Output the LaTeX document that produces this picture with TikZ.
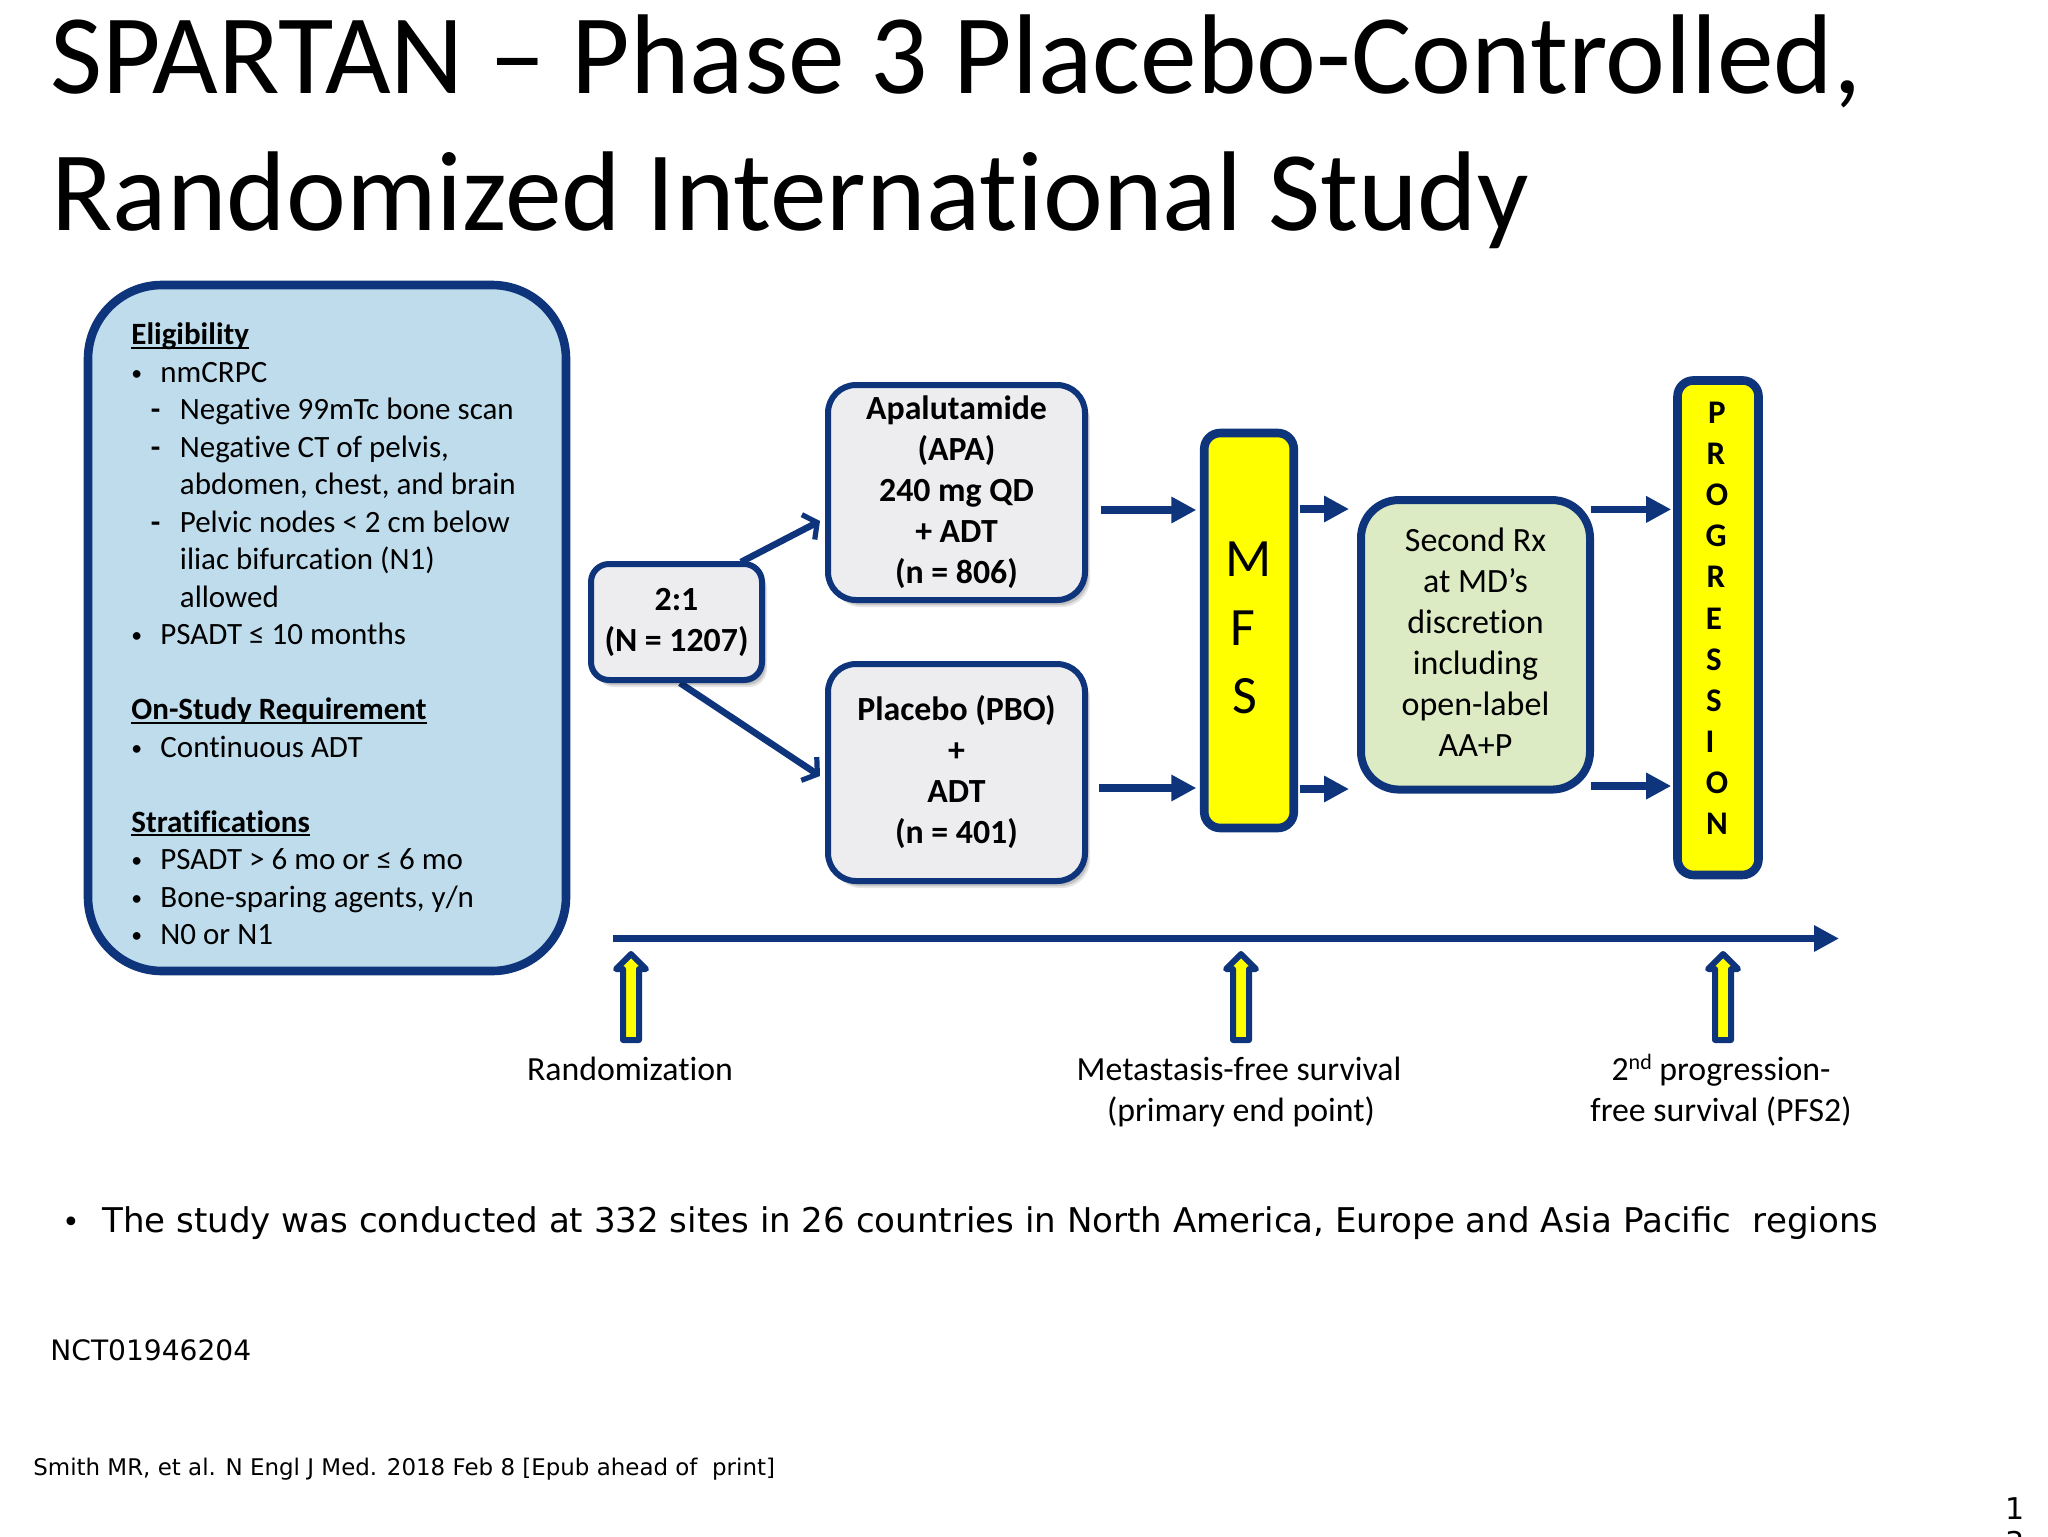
\documentclass[tikz,border=0pt]{standalone}
\usepackage{fontspec}
\setmainfont[Ligatures=NoCommon]{Carlito}
\newfontfamily\notefont{DejaVu Sans}
\usetikzlibrary{arrows.meta,shadows}
\definecolor{navy}{HTML}{0E357C}
\definecolor{panelblue}{HTML}{BEDCEC}
\definecolor{boxgrey}{HTML}{EDEDEF}
\definecolor{rxgreen}{HTML}{DCEBC3}
\definecolor{markyellow}{HTML}{FFFF00}
\newcommand{\listbul}{\makebox[14.5pt][l]{\raisebox{1pt}{\scalebox{.7}{\textbullet}}}}
\newcommand{\listdash}{\makebox[14.5pt][l]{\textbf{-}}}
\newcommand{\listhead}[1]{\setbox0\hbox{\textbf{#1}}\rlap{\rule[-1.9pt]{\wd0}{1pt}}\box0}
\tikzset{
    softshadow/.style={drop shadow={shadow xshift=2.5pt,shadow yshift=-3.5pt,opacity=.1,fill=black},
        drop shadow={shadow xshift=1.8pt,shadow yshift=-2.5pt,opacity=.14,fill=black},
        drop shadow={shadow xshift=1pt,shadow yshift=-1.5pt,opacity=.16,fill=black}},
    armbox/.style={draw=navy,fill=boxgrey,line width=3pt,rounded corners=14pt,softshadow,align=center,
        font=\fontsize{16.9}{20.5}\selectfont\bfseries,inner sep=0pt},
    barbox/.style={draw=navy,fill=markyellow,line width=4.3pt,rounded corners=8pt,inner sep=0pt},
    listline/.style={anchor=base west,inner sep=0pt,font=\fontsize{15.5}{18}\selectfont},
    timelabel/.style={anchor=base,inner sep=0pt,font=\fontsize{16.9}{20}\selectfont},
    progletter/.style={anchor=base,inner sep=0pt,font=\fontsize{16.5}{18}\selectfont\bfseries},
    mfsletter/.style={anchor=base,inner sep=0pt,font=\fontsize{27}{30}\selectfont},
    titleline/.style={anchor=base west,inner sep=0pt,font=\fontsize{56.7}{67}\selectfont},
    flowline/.style={draw=navy,line width=3.8pt,-{Triangle[length=12.5pt,width=12.5pt]}},
    splitline/.style={draw=navy,line width=3.3pt,-{Straight Barb[length=5pt,width=14pt,line width=2.6pt]}},
    timemark/.pic={\draw[draw=navy,fill=markyellow,line width=3pt,line join=round]
        (-8,0) -- (-8,-71) -- (-15,-71) -- (0,-86) -- (15,-71) -- (8,-71) -- (8,0) -- cycle;}
}
\begin{document}
\begin{tikzpicture}[x=.5pt,y=-.5pt]
    \path[use as bounding box,fill=white] (0,0) rectangle (2048,1536);
    % title
    \node[titleline] (title1) at (50,94) {SPARTAN -- Phase 3 Placebo-Controlled,};
    \node[titleline] (title2) at (51,230.5) {Randomized International Study};
    % eligibility panel
    \node[draw=navy,fill=panelblue,line width=4.3pt,rounded corners=37pt,minimum width=239pt,minimum height=343pt] (panel) at (327,628) {};
    \node[listline] (elig) at (131,344.7) {\listhead{Eligibility}};
    \node[listline] (elig1) at (131,382.2) {\listbul nmCRPC};
    \node[listline] (elig2) at (150.5,419.7) {\listdash Negative 99mTc bone scan};
    \node[listline] (elig3) at (150.5,457.2) {\listdash Negative CT of pelvis,};
    \node[listline] (elig4) at (179.5,494.7) {abdomen, chest, and brain};
    \node[listline] (elig5) at (150.5,532.2) {\listdash Pelvic nodes < 2 cm below};
    \node[listline] (elig6) at (179.5,569.7) {iliac bifurcation (N1)};
    \node[listline] (elig7) at (179.5,607.2) {allowed};
    \node[listline] (elig8) at (131,644.7) {\listbul PSADT ≤ 10 months};
    \node[listline] (req) at (131,719.7) {\listhead{On-Study Requirement}};
    \node[listline] (req1) at (131,757.2) {\listbul Continuous ADT};
    \node[listline] (strat) at (131,832.2) {\listhead{Stratifications}};
    \node[listline] (strat1) at (131,869.7) {\listbul PSADT > 6 mo or ≤ 6 mo};
    \node[listline] (strat2) at (131,907.2) {\listbul Bone-sparing agents, y/n};
    \node[listline] (strat3) at (131,944.7) {\listbul N0 or N1};
    % randomization and arms
    \coordinate (randtop) at (741,562);
    \coordinate (randbot) at (680,683);
    \coordinate (apain) at (820,521);
    \coordinate (pboin) at (820,776);
    \draw[splitline] (randtop) -- (apain);
    \draw[splitline] (randbot) -- (pboin);
    \node[armbox,rounded corners=9pt,minimum width=85.5pt,minimum height=58pt] (rand) at (676.5,622) {2:1\\(N = 1207)};
    \node[armbox,minimum width=128.5pt,minimum height=107.5pt] (apa) at (956.5,492.5) {Apalutamide\\(APA)\\240 mg QD\\+ ADT\\(n = 806)};
    \node[armbox,minimum width=128.5pt,minimum height=108.5pt] (pbo) at (956.5,772.5) {Placebo (PBO)\\+\\ADT\\(n = 401)};
    % MFS bar
    \node[barbox,minimum width=44.75pt,minimum height=197.5pt] (mfs) at (1249,630.5) {};
    \node[mfsletter] (mfsm) at (1248.5,576.7) {M};
    \node[mfsletter] (mfsf) at (1243,645) {F};
    \node[mfsletter] (mfss) at (1245,713.4) {S};
    % second treatment
    \node[draw=navy,fill=rxgreen,line width=4pt,rounded corners=19pt,minimum width=114.5pt,minimum height=144.75pt] (second) at (1475.5,644.8) {};
    \node[align=center,inner sep=0pt,font=\fontsize{17}{20.5}\selectfont] (secondtext) at (1475.5,642.2)
        {Second Rx\\at MD’s\\discretion\\including\\open-label\\AA+P};
    % progression bar
    \node[barbox,minimum width=40.5pt,minimum height=247.25pt] (prog) at (1718,627.7) {};
    \node[progletter] (prog1) at (1717,423.7) {P};
    \node[progletter] (prog2) at (1716,464.8) {R};
    \node[progletter] (prog3) at (1717,505.8) {O};
    \node[progletter] (prog4) at (1716,546.9) {G};
    \node[progletter] (prog5) at (1716,587.9) {R};
    \node[progletter] (prog6) at (1714,629) {E};
    \node[progletter] (prog7) at (1714,670) {S};
    \node[progletter] (prog8) at (1714,711.1) {S};
    \node[progletter] (prog9) at (1710,752.2) {I};
    \node[progletter] (prog10) at (1717,793.2) {O};
    \node[progletter] (prog11) at (1717,834.3) {N};
    % flow arrows
    \coordinate (apaout) at (1100.6,510);
    \coordinate (pboout) at (1099,788);
    \coordinate (mfsoutA) at (1299.6,509);
    \coordinate (mfsoutB) at (1299.6,789);
    \coordinate (rxoutA) at (1590.5,509.4);
    \coordinate (rxoutB) at (1590.5,786);
    \draw[flowline,shorten >=1.8pt] (apaout) -- (apaout -| mfs.west);
    \draw[flowline,shorten >=1.8pt] (pboout) -- (pboout -| mfs.west);
    \draw[flowline,shorten >=4pt] (mfsoutA) -- (mfsoutA -| second.west);
    \draw[flowline,shorten >=4pt] (mfsoutB) -- (mfsoutB -| second.west);
    \draw[flowline,shorten >=1pt] (rxoutA) -- (rxoutA -| prog.west);
    \draw[flowline,shorten >=1pt] (rxoutB) -- (rxoutB -| prog.west);
    % timeline
    \coordinate (timestart) at (613,938.5);
    \coordinate (timeend) at (1839,938.5);
    \draw[flowline] (timestart) -- (timeend);
    \pic (markrand) at (631,1040) {timemark};
    \pic (markmfs) at (1241,1040) {timemark};
    \pic (markpfs) at (1723,1040) {timemark};
    \node[timelabel] (randlabel) at (630,1080) {Randomization};
    \node[timelabel] (mfslabel1) at (1239,1080) {Metastasis-free survival};
    \node[timelabel] (mfslabel2) at (1241,1121) {(primary end point)};
    \node[timelabel] (pfslabel1) at (1721,1080) {2\raisebox{.3em}{\fontsize{11}{11}\selectfont nd} progression-};
    \node[timelabel] (pfslabel2) at (1721,1121) {free survival (PFS2)};
    % notes
    \node[anchor=base west,inner sep=0pt,font=\notefont\fontsize{15}{18}\selectfont] (bullet) at (62,1232) {•};
    \node[anchor=base west,inner sep=0pt,font=\notefont\fontsize{17.03}{18}\selectfont] (sites) at (102,1232) {The study was conducted at 332 sites in 26 countries in North America, Europe and Asia Pacific\ \ regions};
    \node[anchor=base west,inner sep=0pt,font=\notefont\fontsize{14.05}{18}\selectfont] (nct) at (50,1360) {NCT01946204};
    \node[anchor=base west,inner sep=0pt,font=\notefont\fontsize{11.47}{14}\selectfont] (cite) at (33,1475) {Smith MR, et al. N Engl J Med. 2018 Feb 8 [Epub ahead of\ \ print]};
    \node[anchor=base,inner sep=0pt,font=\notefont\fontsize{15}{18}\selectfont] (page1) at (2015,1519) {1};
    \node[anchor=base,inner sep=0pt,font=\notefont\fontsize{15}{18}\selectfont] (page2) at (2015,1553) {3};
\end{tikzpicture}
\end{document}
